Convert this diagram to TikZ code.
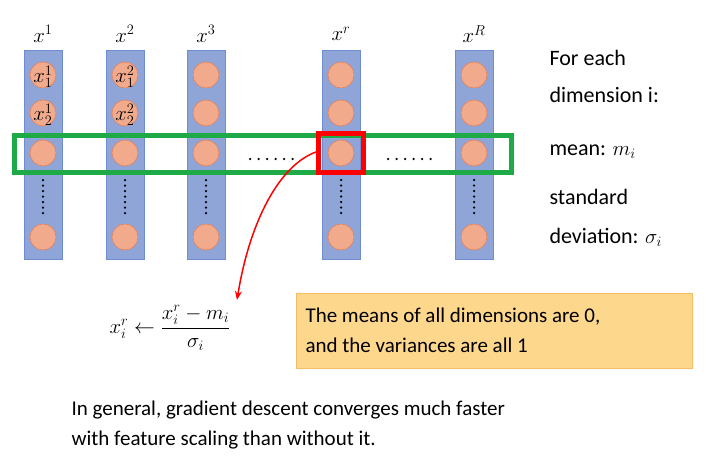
\documentclass[tikz,border=0pt]{standalone}
\usepackage{fontspec}
\setmainfont{Carlito}
\usepackage{amsmath}
\usetikzlibrary{arrows.meta}
\definecolor{grn}{RGB}{30,170,70}
\definecolor{colf}{RGB}{143,164,215}
\definecolor{cold}{RGB}{110,140,210}
\definecolor{ballf}{RGB}{242,170,140}
\definecolor{balld}{RGB}{230,130,90}
\definecolor{boxd}{RGB}{245,190,100}
\definecolor{boxf}{RGB}{253,215,140}
\begin{document}
\begin{tikzpicture}[x=1pt,y=-1pt,
  col/.style={fill=colf,draw=cold,line width=0.8pt},
  ball/.style={circle,minimum size=26pt,inner sep=0pt,fill=ballf,draw=balld,line width=0.6pt},
  vdots/.style={line width=2.5pt,dash pattern=on 0pt off 5.5pt,line cap=round},
  lbl/.style={font=\fontsize{22}{24}\selectfont},
  txt/.style={font=\fontsize{22}{27}\selectfont,anchor=west,align=left}]
\useasboundingbox (0,0) rectangle (719,458);
\foreach \n/\x in {a/43,b/125,c/206,r/341,R/474}{
  \draw[col] (\x-19,50) rectangle (\x+19,259);
  \node[ball] (\n1) at (\x,75) {};
  \node[ball] (\n2) at (\x,113) {};
  \node[ball] (\n3) at (\x,153) {};
  \node[ball] (\n4) at (\x,237) {};
  \draw[vdots] (\x,180) -- (\x,214);
}
\node[lbl] at (43,34) {$x^1$};
\node[lbl] at (125,34) {$x^2$};
\node[lbl] at (206,34) {$x^3$};
\node[lbl] at (341,34) {$x^r$};
\node[lbl] at (474,34) {$x^R$};
\node[lbl] at (43,77) {$x_1^1$};
\node[lbl] at (43,115) {$x_2^1$};
\node[lbl] at (125,77) {$x_1^2$};
\node[lbl] at (125,115) {$x_2^2$};
\draw[line width=5pt,grn] (14,135) rectangle (511,172);
\draw[line width=5pt,red] (318,133) rectangle (363,172);
\draw[line width=2.5pt,dash pattern=on 0pt off 8.5pt,line cap=round] (250,159) -- (296,159);
\draw[line width=2.5pt,dash pattern=on 0pt off 8.5pt,line cap=round] (388,159) -- (434,159);
\coordinate (s) at (316,152);
\coordinate (t) at (237,300);
\draw[red,line width=1.5pt,-{Stealth[length=9pt,width=7pt]}] (s) .. controls (280,165) and (250,220) .. (t);
\node[txt] (h) at (546,58) {For each};
\node[txt] at (546,95) {dimension i:};
\node[txt] at (546,152) {mean: $m_i$};
\node[txt] at (546,197) {standard};
\node[txt] at (546,237) {deviation: $\sigma_i$};
\node[font=\fontsize{22}{24}\selectfont] (f) at (170,328) {$x_i^r \leftarrow \dfrac{x_i^r - m_i}{\sigma_i}$};
\node[draw=boxd,fill=boxf,minimum width=396pt,minimum height=75pt,anchor=north west,inner sep=0pt] (box) at (296,293) {};
\node[txt,font=\fontsize{21}{30}\selectfont] at (302,330) {The means of all dimensions are 0,\\and the variances are all 1};
\node[txt,font=\fontsize{21}{30}\selectfont] at (68,425) {In general, gradient descent converges much faster\\with feature scaling than without it.};
\end{tikzpicture}
\end{document}
